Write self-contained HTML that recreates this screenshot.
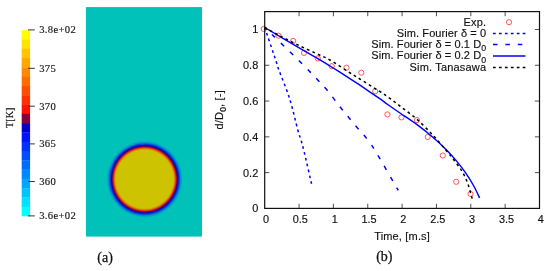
<!DOCTYPE html>
<html><head><meta charset="utf-8"><title>Figure</title>
<style>
html,body{margin:0;padding:0;background:#fff;}
svg{display:block}
.gp{font-family:"Liberation Sans",sans-serif;font-size:11px;fill:#111;letter-spacing:0.17px;stroke:#111;stroke-width:0.15px;}
.tl{letter-spacing:0;font-size:10.9px}
.pv{font-family:"Liberation Serif",serif;font-size:10.6px;fill:#1a1a1a;letter-spacing:0.35px;stroke:#1a1a1a;stroke-width:0.18px;}
.cap{font-family:"Liberation Serif",serif;font-size:14px;fill:#111;stroke:#111;stroke-width:0.25px;}
.tk{stroke:#222;stroke-width:0.8}
</style></head><body>
<svg width="550" height="271" viewBox="0 0 550 271">
<defs>
<radialGradient id="drop" gradientUnits="userSpaceOnUse" cx="144.6" cy="179.2" r="40" gradientTransform="translate(0,179.2) scale(1,1.012) translate(0,-179.2)">
<stop offset="0" stop-color="#cdc300"/>
<stop offset="0.715" stop-color="#cdc300"/>
<stop offset="0.74" stop-color="#d8a000"/>
<stop offset="0.765" stop-color="#e25a00"/>
<stop offset="0.79" stop-color="#d01010"/>
<stop offset="0.81" stop-color="#600060"/>
<stop offset="0.83" stop-color="#0808b0"/>
<stop offset="0.865" stop-color="#0040e0"/>
<stop offset="0.90" stop-color="#0090d0"/>
<stop offset="0.95" stop-color="#00c2b8"/>
<stop offset="1" stop-color="#00c2b8"/>
</radialGradient>
</defs>
<rect width="550" height="271" fill="#fff"/>
<!-- field -->
<rect x="86" y="7.1" width="116" height="229.5" fill="#00c2b8"/>
<rect x="100" y="134" width="90" height="90" fill="url(#drop)"/>
<!-- colour bar -->
<rect x="21.7" y="30.20" width="8.40" height="9.59" fill="#ffff00"/>
<rect x="21.7" y="39.49" width="8.40" height="9.59" fill="#ffe200"/>
<rect x="21.7" y="48.78" width="8.40" height="9.59" fill="#ffc400"/>
<rect x="21.7" y="58.07" width="8.40" height="9.59" fill="#ffa700"/>
<rect x="21.7" y="67.36" width="8.40" height="9.59" fill="#ff8900"/>
<rect x="21.7" y="76.65" width="8.40" height="9.59" fill="#ff6c00"/>
<rect x="21.7" y="85.94" width="8.40" height="9.59" fill="#ff4e00"/>
<rect x="21.7" y="95.23" width="8.40" height="9.59" fill="#ff3100"/>
<rect x="21.7" y="104.52" width="8.40" height="9.59" fill="#ff1300"/>
<rect x="21.7" y="113.81" width="8.40" height="9.59" fill="#87003c"/>
<rect x="21.7" y="123.10" width="8.40" height="9.59" fill="#0000ca"/>
<rect x="21.7" y="132.39" width="8.40" height="9.59" fill="#0013ff"/>
<rect x="21.7" y="141.68" width="8.40" height="9.59" fill="#0031ff"/>
<rect x="21.7" y="150.97" width="8.40" height="9.59" fill="#004eff"/>
<rect x="21.7" y="160.26" width="8.40" height="9.59" fill="#006cff"/>
<rect x="21.7" y="169.55" width="8.40" height="9.59" fill="#0089ff"/>
<rect x="21.7" y="178.84" width="8.40" height="9.59" fill="#00a7ff"/>
<rect x="21.7" y="188.13" width="8.40" height="9.59" fill="#00c4ff"/>
<rect x="21.7" y="197.42" width="8.40" height="9.59" fill="#00e2ff"/>
<rect x="21.7" y="206.71" width="8.40" height="9.59" fill="#00ffff"/>
<line x1="28" y1="29.9" x2="34.8" y2="29.9" stroke="#333" stroke-width="1"/>
<text x="39.2" y="33.2" class="pv">3.8e+02</text>
<line x1="28" y1="68.3" x2="34.8" y2="68.3" stroke="#333" stroke-width="1"/>
<text x="39.2" y="71.6" class="pv">375</text>
<line x1="28" y1="106.2" x2="34.8" y2="106.2" stroke="#333" stroke-width="1"/>
<text x="39.2" y="109.5" class="pv">370</text>
<line x1="28" y1="143.9" x2="34.8" y2="143.9" stroke="#333" stroke-width="1"/>
<text x="39.2" y="147.2" class="pv">365</text>
<line x1="28" y1="181.5" x2="34.8" y2="181.5" stroke="#333" stroke-width="1"/>
<text x="39.2" y="184.8" class="pv">360</text>
<line x1="28" y1="215.9" x2="34.8" y2="215.9" stroke="#333" stroke-width="1"/>
<text x="39.2" y="219.2" class="pv">3.6e+02</text>
<text transform="translate(13.2,117.7) rotate(-90)" text-anchor="middle" class="pv" style="letter-spacing:0;font-size:10.2px">T[K]</text>
<text x="105.1" y="261.5" text-anchor="middle" class="cap">(a)</text>
<!-- plot -->
<circle cx="263.7" cy="28.9" r="2.6" fill="none" stroke="#ff3030" stroke-width="0.8"/>
<circle cx="278.5" cy="35.7" r="2.6" fill="none" stroke="#ff3030" stroke-width="0.8"/>
<circle cx="293.2" cy="40.9" r="2.6" fill="none" stroke="#ff3030" stroke-width="0.8"/>
<circle cx="304" cy="52.9" r="2.6" fill="none" stroke="#ff3030" stroke-width="0.8"/>
<circle cx="317.8" cy="58.4" r="2.6" fill="none" stroke="#ff3030" stroke-width="0.8"/>
<circle cx="331.8" cy="66.2" r="2.6" fill="none" stroke="#ff3030" stroke-width="0.8"/>
<circle cx="346.5" cy="67.7" r="2.6" fill="none" stroke="#ff3030" stroke-width="0.8"/>
<circle cx="361.3" cy="72.7" r="2.6" fill="none" stroke="#ff3030" stroke-width="0.8"/>
<circle cx="375.2" cy="91.3" r="2.6" fill="none" stroke="#ff3030" stroke-width="0.8"/>
<circle cx="387.4" cy="114.4" r="2.6" fill="none" stroke="#ff3030" stroke-width="0.8"/>
<circle cx="401.5" cy="117.4" r="2.6" fill="none" stroke="#ff3030" stroke-width="0.8"/>
<circle cx="417" cy="120.1" r="2.6" fill="none" stroke="#ff3030" stroke-width="0.8"/>
<circle cx="427.7" cy="137" r="2.6" fill="none" stroke="#ff3030" stroke-width="0.8"/>
<circle cx="442.8" cy="155.5" r="2.6" fill="none" stroke="#ff3030" stroke-width="0.8"/>
<circle cx="456.2" cy="181.8" r="2.6" fill="none" stroke="#ff3030" stroke-width="0.8"/>
<circle cx="470.5" cy="193.9" r="2.6" fill="none" stroke="#ff3030" stroke-width="0.8"/>

<path d="M264.70,27.50 C266.62,33.17 273.90,54.58 276.20,61.50 C278.50,68.42 276.28,62.87 278.50,69.00 C280.72,75.13 286.28,88.13 289.50,98.30 C292.72,108.47 295.93,123.22 297.80,130.00 C299.67,136.78 299.63,135.32 300.70,139.00 C301.77,142.68 302.28,144.17 304.20,152.10 C306.12,160.03 310.87,180.85 312.20,186.60" fill="none" stroke="#0000ff" stroke-width="1.5" stroke-dasharray="2.7 3.25"/>
<path d="M264.70,27.50 C270.55,33.17 289.78,51.48 299.80,61.50 C309.82,71.52 318.10,80.05 324.80,87.60 C331.50,95.15 336.17,102.02 340.00,106.80 C343.83,111.58 345.25,113.18 347.80,116.30 C350.35,119.42 352.75,122.52 355.30,125.50 C357.85,128.48 360.52,131.12 363.10,134.20 C365.68,137.28 368.38,140.57 370.80,144.00 C373.22,147.43 373.02,147.07 377.60,154.80 C382.18,162.53 394.85,184.47 398.30,190.40" fill="none" stroke="#0000ff" stroke-width="1.5" stroke-dasharray="4.5 7.9" stroke-dashoffset="2.3"/>
<path d="M264.70,27.50 C270.58,30.97 290.78,42.90 300.00,48.30 C309.22,53.70 315.00,56.95 320.00,59.90 C325.00,62.85 325.08,62.93 330.00,66.00 C334.92,69.07 344.50,75.10 349.50,78.30 C354.50,81.50 355.08,81.88 360.00,85.20 C364.92,88.52 374.38,94.98 379.00,98.20 C383.62,101.42 384.20,102.03 387.70,104.50 C391.20,106.97 395.38,109.85 400.00,113.00 C404.62,116.15 409.87,119.32 415.40,123.40 C420.93,127.48 427.97,133.02 433.20,137.50 C438.43,141.98 442.90,146.37 446.80,150.30 C450.70,154.23 453.43,157.30 456.60,161.10 C459.77,164.90 462.93,168.95 465.80,173.10 C468.67,177.25 471.50,181.85 473.80,186.00 C476.10,190.15 478.63,196.00 479.60,198.00" fill="none" stroke="#0000ff" stroke-width="1.45"/>
<path d="M264.70,27.50 C267.25,28.90 274.12,32.82 280.00,35.90 C285.88,38.98 293.33,42.78 300.00,46.00 C306.67,49.22 315.00,52.87 320.00,55.20 C325.00,57.53 325.08,57.12 330.00,60.00 C334.92,62.88 344.50,69.32 349.50,72.50 C354.50,75.68 355.08,76.02 360.00,79.10 C364.92,82.18 374.08,87.83 379.00,91.00 C383.92,94.17 385.70,95.35 389.50,98.10 C393.30,100.85 397.17,103.92 401.80,107.50 C406.43,111.08 412.07,114.93 417.30,119.60 C422.53,124.27 428.45,130.43 433.20,135.50 C437.95,140.57 442.20,145.73 445.80,150.00 C449.40,154.27 452.00,157.40 454.80,161.10 C457.60,164.80 460.45,168.52 462.60,172.20 C464.75,175.88 466.30,179.52 467.70,183.20 C469.10,186.88 470.23,191.67 471.00,194.30 C471.77,196.93 472.08,198.22 472.30,199.00" fill="none" stroke="#000" stroke-width="1.5" stroke-dasharray="2.7 3.25"/>

<rect x="264.7" y="11.6" width="274.80" height="196.80" fill="none" stroke="#111" stroke-width="1.2"/>
<text x="266.00" y="223.2" class="gp tl" text-anchor="middle">0</text>
<line x1="299.05" y1="208.4" x2="299.05" y2="203.8" class="tk"/>
<line x1="299.05" y1="11.6" x2="299.05" y2="16.2" class="tk"/>
<text x="300.35" y="223.2" class="gp tl" text-anchor="middle">0.5</text>
<line x1="333.40" y1="208.4" x2="333.40" y2="203.8" class="tk"/>
<line x1="333.40" y1="11.6" x2="333.40" y2="16.2" class="tk"/>
<text x="334.70" y="223.2" class="gp tl" text-anchor="middle">1</text>
<line x1="367.75" y1="208.4" x2="367.75" y2="203.8" class="tk"/>
<line x1="367.75" y1="11.6" x2="367.75" y2="16.2" class="tk"/>
<text x="369.05" y="223.2" class="gp tl" text-anchor="middle">1.5</text>
<line x1="402.10" y1="208.4" x2="402.10" y2="203.8" class="tk"/>
<line x1="402.10" y1="11.6" x2="402.10" y2="16.2" class="tk"/>
<text x="403.40" y="223.2" class="gp tl" text-anchor="middle">2</text>
<line x1="436.45" y1="208.4" x2="436.45" y2="203.8" class="tk"/>
<line x1="436.45" y1="11.6" x2="436.45" y2="16.2" class="tk"/>
<text x="437.75" y="223.2" class="gp tl" text-anchor="middle">2.5</text>
<line x1="470.80" y1="208.4" x2="470.80" y2="203.8" class="tk"/>
<line x1="470.80" y1="11.6" x2="470.80" y2="16.2" class="tk"/>
<text x="472.10" y="223.2" class="gp tl" text-anchor="middle">3</text>
<line x1="505.15" y1="208.4" x2="505.15" y2="203.8" class="tk"/>
<line x1="505.15" y1="11.6" x2="505.15" y2="16.2" class="tk"/>
<text x="506.45" y="223.2" class="gp tl" text-anchor="middle">3.5</text>
<text x="540.80" y="223.2" class="gp tl" text-anchor="middle">4</text>
<text x="258.2" y="212.30" class="gp tl" text-anchor="end">0</text>
<line x1="264.7" y1="172.62" x2="269.3" y2="172.62" class="tk"/>
<line x1="539.5" y1="172.62" x2="534.9" y2="172.62" class="tk"/>
<text x="258.2" y="176.52" class="gp tl" text-anchor="end">0.2</text>
<line x1="264.7" y1="136.84" x2="269.3" y2="136.84" class="tk"/>
<line x1="539.5" y1="136.84" x2="534.9" y2="136.84" class="tk"/>
<text x="258.2" y="140.74" class="gp tl" text-anchor="end">0.4</text>
<line x1="264.7" y1="101.05" x2="269.3" y2="101.05" class="tk"/>
<line x1="539.5" y1="101.05" x2="534.9" y2="101.05" class="tk"/>
<text x="258.2" y="104.95" class="gp tl" text-anchor="end">0.6</text>
<line x1="264.7" y1="65.27" x2="269.3" y2="65.27" class="tk"/>
<line x1="539.5" y1="65.27" x2="534.9" y2="65.27" class="tk"/>
<text x="258.2" y="69.17" class="gp tl" text-anchor="end">0.8</text>
<line x1="264.7" y1="29.49" x2="269.3" y2="29.49" class="tk"/>
<line x1="539.5" y1="29.49" x2="534.9" y2="29.49" class="tk"/>
<text x="258.2" y="33.39" class="gp tl" text-anchor="end">1</text>

<text x="486.2" y="25.5" class="gp" text-anchor="end">Exp.</text>
<circle cx="509" cy="22.2" r="2.6" fill="none" stroke="#ff3030" stroke-width="0.8"/>
<text x="486.2" y="37.3" class="gp" style="letter-spacing:0.09px" text-anchor="end">Sim. Fourier δ = 0</text>
<line x1="493" y1="33.4" x2="525.4" y2="33.4" stroke="#0000ff" stroke-width="1.5" stroke-dasharray="2.7 3.25"/>
<text x="486.2" y="47.6" class="gp" style="letter-spacing:0.09px" text-anchor="end">Sim. Fourier δ = 0.1 D<tspan dy="3.8" font-size="8.8">0</tspan></text>
<line x1="493" y1="44.6" x2="525.4" y2="44.6" stroke="#0000ff" stroke-width="1.5" stroke-dasharray="4.5 7.9"/>
<text x="486.2" y="58.9" class="gp" style="letter-spacing:0.09px" text-anchor="end">Sim. Fourier δ = 0.2 D<tspan dy="3.8" font-size="8.8">0</tspan></text>
<line x1="493" y1="55.9" x2="525.4" y2="55.9" stroke="#0000ff" stroke-width="1.45"/>
<text x="486.2" y="71.30000000000001" class="gp" text-anchor="end">Sim. Tanasawa</text>
<line x1="493" y1="67.4" x2="525.4" y2="67.4" stroke="#000" stroke-width="1.5" stroke-dasharray="2.7 3.25"/>

<text x="402.1" y="240.3" text-anchor="middle" class="gp">Time, [m.s]</text>
<text transform="translate(222.6,109.8) rotate(-90)" text-anchor="middle" class="gp">d/D<tspan dy="3" font-size="8.6">0</tspan><tspan dy="-3">, [-]</tspan></text>
<text x="384.3" y="261.4" text-anchor="middle" class="cap">(b)</text>
</svg>
</body></html>
